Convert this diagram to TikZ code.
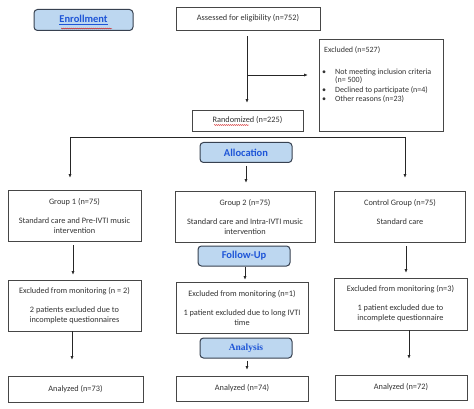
\documentclass[tikz,border=0pt]{standalone}
\usepackage{fontspec}
\setmainfont{Carlito}
\newfontfamily\hdrserif{Liberation Serif}
\usetikzlibrary{arrows.meta,decorations.pathmorphing}
\definecolor{hdrfill}{RGB}{189,215,240}
\definecolor{hdrline}{RGB}{55,65,80}
\definecolor{hdrtext}{RGB}{30,85,215}
\definecolor{boxline}{RGB}{70,70,70}
\begin{document}
\begin{tikzpicture}[x=1pt,y=-1pt,
  box/.style={draw=boxline, line width=0.6pt, fill=white, inner sep=0pt,
    align=center, font=\fontsize{8.3}{10}\selectfont, text=black!80},
  hdr/.style={draw=hdrline, line width=1pt, fill=hdrfill, rounded corners=3.5pt,
    inner sep=0pt, minimum width=92pt, minimum height=20pt,
    font=\fontsize{10.5}{12}\bfseries\selectfont, text=hdrtext},
  arr/.style={-{Latex[length=3.5pt,width=3pt]}, line width=0.6pt, draw=black!85},
  ln/.style={line width=0.6pt, draw=black!85},
  squig/.style={draw=red!80!black, line width=0.35pt, decorate,
    decoration={snake, amplitude=0.5pt, segment length=2pt}}
]
\useasboundingbox (0,0) rectangle (474,409);

% headers
\node[hdr, minimum width=99pt, minimum height=21pt] (enr) at (83.5,20) {\underline{Enrollment}};
\node[hdr] (alloc) at (246,152.5) {Allocation};
\node[hdr] (fu) at (244,256) {Follow-Up};
\node[hdr, font=\fontsize{9.5}{11}\hdrserif\bfseries\selectfont] (ana) at (246,348) {Analysis};

% enrollment
\node[box, minimum width=144pt, minimum height=23pt] (ass) at (248,18.5) {Assessed for eligibility (n=752)};
\node[box, minimum width=124pt, minimum height=92pt] (excl) at (381,85) {};
\node[anchor=north west, inner sep=0pt, align=left, text=black!80,
  font=\fontsize{8}{8.6}\selectfont] (excltxt) at (322,46.5)
  {\hspace*{2pt}Excluded (n=527)\\[13pt]
   \makebox[13pt][l]{•}Not meeting inclusion criteria\\
   \hspace*{13pt}(n= 500)\\[1.5pt]
   \makebox[13pt][l]{•}Declined to participate (n=4)\\
   \makebox[13pt][l]{•}Other reasons (n=23)};
\node[box, minimum width=111pt, minimum height=21pt] (rand) at (247.5,120.5) {Randomized (n=225)};

% groups
\node[box, minimum width=133pt, minimum height=51pt] (g1) at (74.5,215.5)
  {Group 1 (n=75)\\[9pt] Standard care and Pre-IVTI music\\ intervention};
\node[box, minimum width=140pt, minimum height=51pt] (g2) at (245,216.5)
  {Group 2 (n=75)\\[9pt] Standard care and Intra-IVTI music\\ intervention};
\node[box, minimum width=131pt, minimum height=51pt] (ctrl) at (400,216.5)
  {Control Group (n=75)\\[9pt] Standard care\\ \mbox{}};

% follow-up
\node[box, minimum width=133pt, minimum height=51pt] (e1) at (74.5,305.5)
  {Excluded from monitoring (n = 2)\\[9pt] 2 patients excluded due to\\ incomplete questionnaires};
\node[box, minimum width=132pt, minimum height=51pt] (e2) at (242,307.5)
  {Excluded from monitoring (n=1)\\[9pt] 1 patient excluded due to long IVTI\\ time};
\node[box, minimum width=133pt, minimum height=52pt] (e3) at (400.5,304)
  {Excluded from monitoring (n=3)\\[9pt] 1 patient excluded due to\\ incomplete questionnaire};

% analysis
\node[box, minimum width=135pt, minimum height=26pt] (a1) at (75.5,389) {Analyzed (n=73)};
\node[box, minimum width=132pt, minimum height=25pt] (a2) at (242,388.5) {Analyzed (n=74)};
\node[box, minimum width=132pt, minimum height=25pt] (a3) at (401,387.5) {Analyzed (n=72)};

% spell-check squiggles
\draw[squig] (61,28.5) -- (112,28.5);
\draw[squig] (214,125) -- (249,125);

% connectors
\coordinate (br) at (247,75);
\draw[arr, shorten <=6pt, shorten >=7pt] (ass.south -| br) -- (rand.north -| br);
\draw[arr, shorten >=11pt] (br) -- (br -| excl.west);

\coordinate (bl) at (70,137);
\coordinate (bri) at (405,137);
\draw[ln] (bl) -- (bri);
\draw[arr, shorten >=12pt] (bl) -- (bl |- g1.north);
\draw[arr, shorten >=13pt] (bri) -- (bri |- ctrl.north);
\draw[arr, shorten <=3pt, shorten >=8pt] (alloc.south) -- (alloc.south |- g2.north);

\draw[arr, shorten <=4pt, shorten >=5pt] ([xshift=-1.5pt]g1.south) -- ([xshift=-1.5pt]g1.south |- e1.north);
\draw[arr, shorten >=2pt] ([xshift=1pt]fu.south) -- ([xshift=1pt]fu.south |- e2.north);
\draw[arr, shorten <=4pt, shorten >=5pt] ([xshift=6pt]ctrl.south) -- ([xshift=6pt]ctrl.south |- e3.north);

\draw[arr, shorten >=16pt] ([xshift=-2.5pt]e1.south) -- ([xshift=-2.5pt]e1.south |- a1.north);
\draw[arr, shorten <=2pt, shorten >=6pt] ([xshift=1pt]ana.south) -- ([xshift=1pt]ana.south |- a2.north);
\draw[arr, shorten >=16pt] ([xshift=8.5pt]e3.south) -- ([xshift=8.5pt]e3.south |- a3.north);
\end{tikzpicture}
\end{document}
